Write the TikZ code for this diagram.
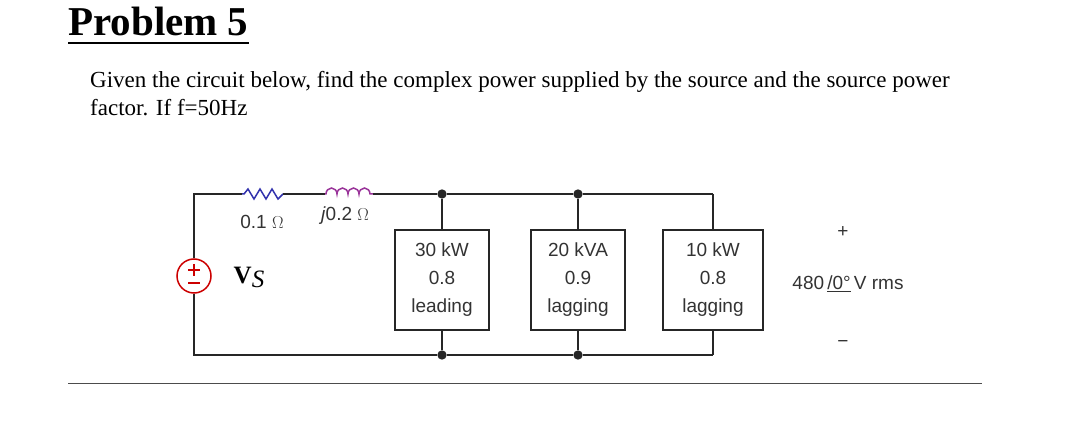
\documentclass[tikz,border=0pt]{standalone}
\usepackage{fontspec}
\setmainfont{Liberation Serif}
\newfontfamily\arial{Liberation Sans}
\begin{document}
\begin{tikzpicture}[x=1pt,y=-1pt,
 w/.style={line width=2.2pt,black!85},
 load/.style={draw,line width=2.2pt,black!85,fill=white,minimum width=94pt,minimum height=100pt,align=center,font=\arial\fontsize{19}{28}\selectfont,text=black!80},
 dot/.style={circle,fill=black!85,inner sep=3.3pt},
 lab/.style={font=\arial\fontsize{19}{22}\selectfont,text=black!80}]
\useasboundingbox (0,0) rectangle (1068,438);
\node[anchor=base west,font=\bfseries\fontsize{41}{48}\selectfont,inner sep=0] (t) at (68,36) {Problem 5};
\draw[line width=1.8pt] (68,43) -- (249,43);
\node[anchor=base west,align=left,font=\fontsize{23}{28}\selectfont,inner sep=0] (p) at (90,116) {Given the circuit below, find the complex power supplied by the source and the source power\\factor. If f=50Hz};
\coordinate (tl) at (194,194); \coordinate (bl) at (194,355);
\coordinate (tr) at (713,194); \coordinate (br) at (713,355);
\coordinate (r1) at (242,194); \coordinate (r2) at (283,194);
\coordinate (l1) at (325,194); \coordinate (l2) at (373,194);
\node[dot] (d1) at (442,194) {}; \node[dot] (d2) at (578,194) {};
\node[dot] (d3) at (442,355) {}; \node[dot] (d4) at (578,355) {};
\node[circle,draw=red!80!black,line width=1.5pt,minimum size=34pt,fill=white] (vs) at (194,276) {};
\draw[w] (vs.north) -- (tl) -- (r1);
\draw[line width=1.5pt,blue!60!black!80] (r1) -- ++(2,0) -- ++(4,-5) -- ++(6,10)-- ++(6,-10)-- ++(6,10)-- ++(6,-10)-- ++(6,10)-- ++(5,-5);
\draw[w] (r2) -- (l1);
\draw[line width=1.5pt,violet!80] (l1) -- ++(1,0) arc[start angle=180,end angle=0,x radius=5.5pt,y radius=6pt] arc[start angle=180,end angle=0,x radius=5.5pt,y radius=6pt] arc[start angle=180,end angle=0,x radius=5.5pt,y radius=6pt] arc[start angle=180,end angle=0,x radius=5.5pt,y radius=6pt] -- (l2);
\draw[w] (l2) -- (d1) -- (d2) -- (tr);
\draw[w] (vs.south) -- (bl) -- (d3) -- (d4) -- (br);
\node[load] (b1) at (442,280) {30 kW\\0.8\\leading};
\node[load] (b2) at (578,280) {20 kVA\\0.9\\lagging};
\node[load,minimum width=100pt] (b3) at (713,280) {10 kW\\0.8\\lagging};
\draw[w] (d1) -- (b1.north) (b1.south) -- (d3);
\draw[w] (d2) -- (b2.north) (b2.south) -- (d4);
\draw[w] (tr) -- (b3.north) (b3.south) -- (br);
\draw[red!80!black,line width=1.3pt] (188,270) -- (200,270) (194,264) -- (194,276) (188,283) -- (200,283);
\node[font=\bfseries\fontsize{25}{25}\selectfont] (vl) at (249,277) {V\raisebox{-4pt}{\normalfont\itshape S}};
\node[lab] (rl) at (262,222) {0.1 $\Omega$};
\node[lab] (ll) at (345,216) {\textit{j}0.2 $\Omega$};
\node[lab] (pl) at (843,232) {+};
\node[lab] (vt) at (848,284) {480\,\underline{/0°}\,V rms};
\node[lab] (ml) at (843,344) {−};
\draw[line width=1pt,black!70] (68,383) -- (982,383);
\end{tikzpicture}
\end{document}
